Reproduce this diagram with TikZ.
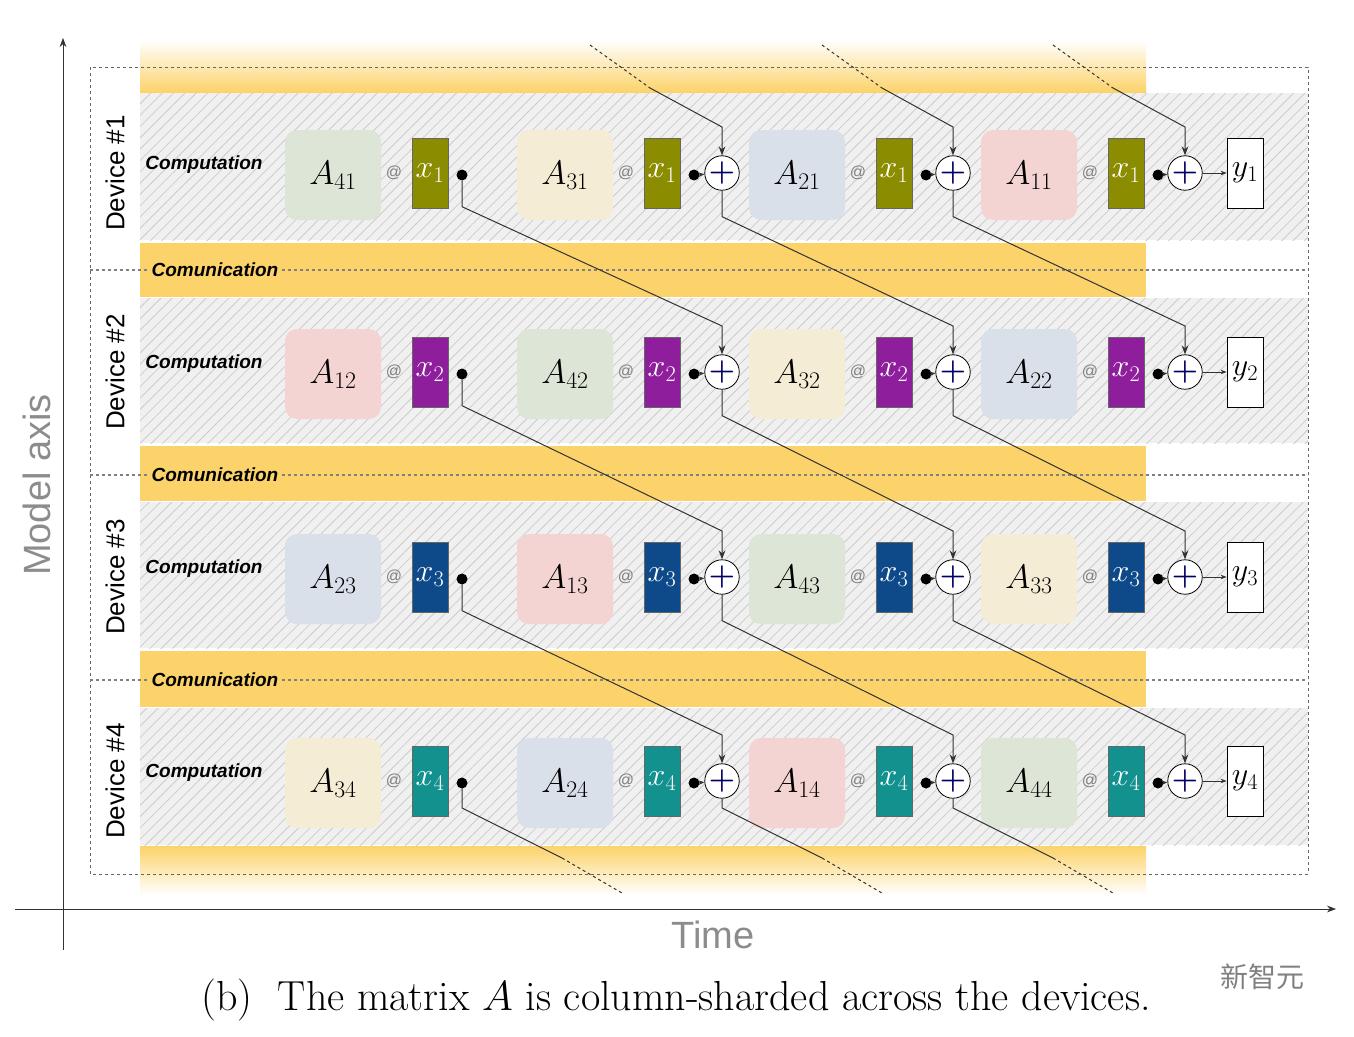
\documentclass[tikz,border=0pt]{standalone}
\usepackage{fix-cm}
\usepackage{fontspec}
\newfontfamily\sff{Liberation Sans}
\newfontfamily\cjk{Noto Sans CJK SC}
\usetikzlibrary{patterns.meta,arrows.meta}
\definecolor{bandyel}{HTML}{FCD36A}
\definecolor{bgray}{HTML}{F0F0F0}
\definecolor{ca1}{HTML}{F4D3D3}
\definecolor{ca2}{HTML}{D9E0EA}
\definecolor{ca3}{HTML}{F5ECD6}
\definecolor{ca4}{HTML}{DDE5D6}
\definecolor{cx1}{HTML}{8C8C00}
\definecolor{cx2}{HTML}{8E1E9C}
\definecolor{cx3}{HTML}{0E4A8A}
\definecolor{cx4}{HTML}{13918F}
\begin{document}
\begin{tikzpicture}[x=1pt, y=-1pt,
    amat/.style={rounded corners=12pt, minimum width=96pt, minimum height=90pt, font=\fontsize{34}{36}\selectfont},
    xvec/.style={draw=black!60, minimum width=36pt, minimum height=70pt, inner sep=0pt, text=white, font=\fontsize{32}{34}\selectfont},
    yvec/.style={draw, thick, fill=white, minimum width=36pt, minimum height=70pt, inner sep=0pt, font=\fontsize{32}{34}\selectfont},
    plus/.style={circle, draw, thick, fill=white, minimum size=30pt, inner sep=0pt, font=\fontsize{30}{30}\selectfont\bfseries, text=blue!40!black},
    dot/.style={circle, fill=black, minimum size=11pt, inner sep=0pt},
    comp/.style={font=\sff\fontsize{19}{22}\selectfont\bfseries\itshape},
    flow/.style={draw=black!80, line width=1pt},
    tip/.style={-{Stealth[length=9pt]}}]
\useasboundingbox (0,0) rectangle (1354,1036);

% bands
\shade[top color=white, bottom color=bandyel] (140,40) rectangle (1146,92);
\shade[top color=bandyel, bottom color=white] (140,846) rectangle (1146,895);
\foreach \ya/\yb in {93/240, 298/443, 502/648, 708/845}{
  \fill[bgray] (140,\ya) rectangle (1308,\yb);
  \fill[pattern={Lines[angle=45,distance=8pt,line width=0.8pt]}, pattern color=black!20] (140,\ya) rectangle (1308,\yb);
}
\foreach \ya/\yb in {243/297, 446/501, 651/707}
  \fill[bandyel] (140,\ya) rectangle (1146,\yb);
\draw[dashed, black!60, thick] (90,67) rectangle (1308,874);
\foreach \yl/\n in {270/1, 475/2, 680/3}{
  \draw[dashed, black!50, line width=1.5pt] (90,\yl) -- (1308,\yl);
  \node[comp, fill=bandyel, inner sep=2pt] (com\n) at (215,\yl) {Comunication};
}

% rows
\foreach \r/\yc in {1/173, 2/372, 3/577, 4/781}{
  \node[rotate=90, font=\sff\fontsize{26}{28}\selectfont] (dev\r) at (115,\yc) {Device \#\r};
  \node[comp] (cp\r) at (204,\yc-8) {Computation};
  \foreach \c/\xa in {1/333, 2/565, 3/797, 4/1029}{
    \pgfmathtruncatemacro{\i}{mod(\r-\c+7,4)+1}
    \node[amat, fill=ca\i] (a\r\c) at (\xa,\yc+2) {$A_{\i\r}$};
    \node[text=black!50, font=\sff\fontsize{16}{16}\selectfont] (at\r\c) at (\xa+61,\yc) {@};
    \node[xvec, fill=cx\r] (x\r\c) at (\xa+97,\yc) {$x_{\r}$};
    \node[dot] (d\r\c) at (\xa+129,\yc+2) {};
  }
  \foreach \c/\xp in {2/722, 3/953, 4/1185}{
    \node[plus] (p\r\c) at (\xp,\yc) {+};
    \draw[black!80, thick, -{Stealth[length=6pt]}] (d\r\c) -- (p\r\c);
  }
  \node[yvec] (y\r) at (1245,\yc) {$y_{\r}$};
  \draw[black!80, thick, -{Stealth[length=6pt]}] (p\r4) -- (y\r);
}

% connectors between rows
\foreach \r/\s/\ys in {1/2/372, 2/3/577, 3/4/781}{
  \foreach \c/\cn/\xt in {1/2/722, 2/3/953, 3/4/1185}{
    \ifnum\c=1 \def\src{d\r1}\else \def\src{p\r\c}\fi
    \coordinate (k\r\c) at ([yshift=-26pt]\src.south);
    \coordinate (m\r\c) at (\xt,\ys-46);
    \draw[flow, tip] (\src) -- (k\r\c) -- (m\r\c) -- (p\s\cn);
  }
}
% incoming from the top
\foreach \c/\xt/\xs in {2/722/590, 3/953/822, 4/1185/1053}{
  \coordinate (ts\c) at (\xs,45);
  \coordinate (tm\c) at (\xs+60,88);
  \coordinate (tk\c) at (\xt,127);
  \draw[flow, dashed] (ts\c) -- (tm\c);
  \draw[flow, tip] (tm\c) -- (tk\c) -- (p1\c);
}
% outgoing at the bottom
\foreach \c/\xs in {1/462, 2/722, 3/953}{
  \ifnum\c=1 \def\src{d41}\else \def\src{p4\c}\fi
  \coordinate (bk\c) at (\xs,808);
  \coordinate (bm\c) at (\xs+100,858);
  \coordinate (be\c) at (\xs+160,893);
  \draw[flow] (\src) -- (bk\c) -- (bm\c);
  \draw[flow, dashed] (bm\c) -- (be\c);
}

% axes
\coordinate (o) at (63,950);
\coordinate (ytop) at (63,38);
\coordinate (xl) at (15,909);
\coordinate (xr) at (1336,909);
\draw[thick, black!80, -{Stealth[length=9pt]}] (o) -- (ytop);
\draw[thick, black!80, -{Stealth[length=9pt]}] (xl) -- (xr);
\node[rotate=90, text=black!45, font=\sff\fontsize{38}{40}\selectfont] (maxis) at (37,485) {Model axis};
\node[text=black!45, font=\sff\fontsize{38}{40}\selectfont] (time) at (713,935) {Time};
\node[font=\fontsize{42}{44}\selectfont] (cap) at (676,1000) {(b)\ \ The matrix $A$ is column-sharded across the devices.};
\node[text=black!50, font=\cjk\fontsize{28}{30}\selectfont] (wm) at (1262,977) {新智元};
\end{tikzpicture}
\end{document}
